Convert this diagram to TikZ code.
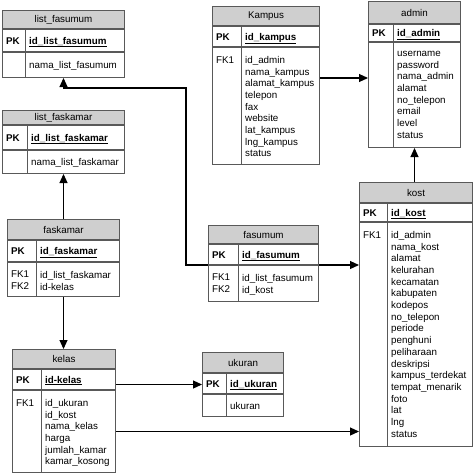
\documentclass[tikz,border=0pt]{standalone}
\usepackage{fontspec}
\setmainfont{Liberation Sans}
\usepackage{tikz}
\usetikzlibrary{positioning, arrows.meta, calc}

\begin{document}
\begin{tikzpicture}[x=1pt, y=-1pt, font=\fontsize{9.8}{11.7}\selectfont]
        \tikzstyle{hdr} = [rectangle, draw=black!65, line width=1pt, fill=black!19, anchor=north west, inner sep=0pt]
        \tikzstyle{row} = [rectangle, draw=black!65, line width=1pt, fill=white, inner sep=0pt]
        \tikzstyle{sep} = [draw=black!65, line width=1pt]
        \tikzstyle{txt} = [anchor=base west, inner sep=0pt]
        \tikzstyle{lst} = [anchor=north west, inner sep=0pt, align=left, execute at begin node={\rule{0pt}{7.5pt}}]
        \tikzstyle{fk} = [line width=1.1pt, -{Triangle[length=9pt, width=8pt]}]

        \useasboundingbox (0,0) rectangle (474,472);

        % list_fasumum
        \node [hdr, minimum width=122pt, minimum height=18pt] (lfu) at (2,10) {list\_fasumum};
        \node [row, minimum width=122pt, minimum height=22pt, below=0pt of lfu] (lfu-pk) {};
        \node [row, minimum width=122pt, minimum height=25pt, below=0pt of lfu-pk] (lfu-body) {};
        \draw [sep] ($(lfu-pk.north west)+(23,0)$) -- ($(lfu-body.south west)+(23,0)$);
        \node [txt] (lfu-k1) at ($(lfu-pk.west)+(4,3.5)$) {\textbf{PK}};
        \node [txt] (lfu-f1) at ($(lfu-pk.west)+(27,3.5)$) {\underline{\textbf{id\_list\_fasumum}}};
        \node [txt] (lfu-f2) at ($(lfu-body.west)+(27,3.5)$) {nama\_list\_fasumum};

        % list_faskamar
        \node [hdr, minimum width=122pt, minimum height=14pt] (lfk) at (2,110) {list\_faskamar};
        \node [row, minimum width=122pt, minimum height=24pt, below=0pt of lfk] (lfk-pk) {};
        \node [row, minimum width=122pt, minimum height=23pt, below=0pt of lfk-pk] (lfk-body) {};
        \draw [sep] ($(lfk-pk.north west)+(25,0)$) -- ($(lfk-body.south west)+(25,0)$);
        \node [txt] (lfk-k1) at ($(lfk-pk.west)+(4,3.5)$) {\textbf{PK}};
        \node [txt] (lfk-f1) at ($(lfk-pk.west)+(29,3.5)$) {\underline{\textbf{id\_list\_faskamar}}};
        \node [txt] (lfk-f2) at ($(lfk-body.west)+(29,3.5)$) {nama\_list\_faskamar};

        % faskamar
        \node [hdr, minimum width=112pt, minimum height=20pt] (faskamar) at (7,219) {faskamar};
        \node [row, minimum width=112pt, minimum height=21pt, below=0pt of faskamar] (faskamar-pk) {};
        \node [row, minimum width=112pt, minimum height=34pt, below=0pt of faskamar-pk] (faskamar-body) {};
        \draw [sep] ($(faskamar-pk.north west)+(29,0)$) -- ($(faskamar-body.south west)+(29,0)$);
        \node [txt] (faskamar-k1) at ($(faskamar-pk.west)+(4,3.5)$) {\textbf{PK}};
        \node [txt] (faskamar-f1) at ($(faskamar-pk.west)+(33,3.5)$) {\underline{\textbf{id\_faskamar}}};
        \node [lst] (faskamar-k2) at ($(faskamar-body.north west)+(4,9)$) {FK1\\FK2};
        \node [lst] (faskamar-f2) at ($(faskamar-body.north west)+(33,9)$) {id\_list\_faskamar\\id-kelas};

        % kelas
        \node [hdr, minimum width=103pt, minimum height=19pt] (kelas) at (12,349) {kelas};
        \node [row, minimum width=103pt, minimum height=20pt, below=0pt of kelas] (kelas-pk) {};
        \node [row, minimum width=103pt, minimum height=82pt, below=0pt of kelas-pk] (kelas-body) {};
        \draw [sep] ($(kelas-pk.north west)+(29,0)$) -- ($(kelas-body.south west)+(29,0)$);
        \node [txt] (kelas-k1) at ($(kelas-pk.west)+(4,3.5)$) {\textbf{PK}};
        \node [txt] (kelas-f1) at ($(kelas-pk.west)+(33,3.5)$) {\underline{\textbf{id-kelas}}};
        \node [lst] (kelas-k2) at ($(kelas-body.north west)+(4,9)$) {FK1};
        \node [lst] (kelas-f2) at ($(kelas-body.north west)+(33,9)$) {id\_ukuran\\id\_kost\\nama\_kelas\\harga\\jumlah\_kamar\\kamar\_kosong};

        % ukuran
        \node [hdr, minimum width=81pt, minimum height=20pt] (ukuran) at (202,352) {ukuran};
        \node [row, minimum width=81pt, minimum height=20pt, below=0pt of ukuran] (ukuran-pk) {};
        \node [row, minimum width=81pt, minimum height=22pt, below=0pt of ukuran-pk] (ukuran-body) {};
        \draw [sep] ($(ukuran-pk.north west)+(24,0)$) -- ($(ukuran-body.south west)+(24,0)$);
        \node [txt] (ukuran-k1) at ($(ukuran-pk.west)+(4,3.5)$) {\textbf{PK}};
        \node [txt] (ukuran-f1) at ($(ukuran-pk.west)+(28,3.5)$) {\underline{\textbf{id\_ukuran}}};
        \node [txt] (ukuran-f2) at ($(ukuran-body.west)+(28,3.5)$) {ukuran};

        % fasumum
        \node [hdr, minimum width=110pt, minimum height=18pt] (fasumum) at (208,225) {fasumum};
        \node [row, minimum width=110pt, minimum height=20pt, below=0pt of fasumum] (fasumum-pk) {};
        \node [row, minimum width=110pt, minimum height=36pt, below=0pt of fasumum-pk] (fasumum-body) {};
        \draw [sep] ($(fasumum-pk.north west)+(30,0)$) -- ($(fasumum-body.south west)+(30,0)$);
        \node [txt] (fasumum-k1) at ($(fasumum-pk.west)+(4,3.5)$) {\textbf{PK}};
        \node [txt] (fasumum-f1) at ($(fasumum-pk.west)+(34,3.5)$) {\underline{\textbf{id\_fasumum}}};
        \node [lst] (fasumum-k2) at ($(fasumum-body.north west)+(4,9)$) {FK1\\FK2};
        \node [lst] (fasumum-f2) at ($(fasumum-body.north west)+(34,9)$) {id\_list\_fasumum\\id\_kost};

        % Kampus
        \node [hdr, minimum width=107pt, minimum height=19pt] (kampus) at (212,6) {Kampus};
        \node [row, minimum width=107pt, minimum height=20pt, below=0pt of kampus] (kampus-pk) {};
        \node [row, minimum width=107pt, minimum height=117pt, below=0pt of kampus-pk] (kampus-body) {};
        \draw [sep] ($(kampus-pk.north west)+(29,0)$) -- ($(kampus-body.south west)+(29,0)$);
        \node [txt] (kampus-k1) at ($(kampus-pk.west)+(4,3.5)$) {\textbf{PK}};
        \node [txt] (kampus-f1) at ($(kampus-pk.west)+(33,3.5)$) {\underline{\textbf{id\_kampus}}};
        \node [lst] (kampus-k2) at ($(kampus-body.north west)+(4,9)$) {FK1};
        \node [lst] (kampus-f2) at ($(kampus-body.north west)+(33,9)$) {id\_admin\\nama\_kampus\\alamat\_kampus\\telepon\\fax\\website\\lat\_kampus\\lng\_kampus\\status};

        % admin
        \node [hdr, minimum width=92pt, minimum height=22pt] (admin) at (368,1) {admin};
        \node [row, minimum width=92pt, minimum height=17pt, below=0pt of admin] (admin-pk) {};
        \node [row, minimum width=92pt, minimum height=105pt, below=0pt of admin-pk] (admin-body) {};
        \draw [sep] ($(admin-pk.north west)+(25,0)$) -- ($(admin-body.south west)+(25,0)$);
        \node [txt] (admin-k1) at ($(admin-pk.west)+(4,3.5)$) {\textbf{PK}};
        \node [txt] (admin-f1) at ($(admin-pk.west)+(29,3.5)$) {\underline{\textbf{id\_admin}}};
        \node [lst] (admin-f2) at ($(admin-body.north west)+(29,9)$) {username\\password\\nama\_admin\\alamat\\no\_telepon\\email\\level\\status};

        % kost
        \node [hdr, minimum width=113pt, minimum height=20pt] (kost) at (359,182) {kost};
        \node [row, minimum width=113pt, minimum height=18pt, below=0pt of kost] (kost-pk) {};
        \node [row, minimum width=113pt, minimum height=224pt, below=0pt of kost-pk] (kost-body) {};
        \draw [sep] ($(kost-pk.north west)+(28,0)$) -- ($(kost-body.south west)+(28,0)$);
        \node [txt] (kost-k1) at ($(kost-pk.west)+(4,3.5)$) {\textbf{PK}};
        \node [txt] (kost-f1) at ($(kost-pk.west)+(32,3.5)$) {\underline{\textbf{id\_kost}}};
        \node [lst] (kost-k2) at ($(kost-body.north west)+(4,9)$) {FK1};
        \node [lst] (kost-f2) at ($(kost-body.north west)+(32,9)$) {id\_admin\\nama\_kost\\alamat\\kelurahan\\kecamatan\\kabupaten\\kodepos\\no\_telepon\\periode\\penghuni\\peliharaan\\deskripsi\\kampus\_terdekat\\tempat\_menarik\\foto\\lat\\lng\\status};

        % relations
        \coordinate (turn) at (186,88);
        \coordinate (k2a) at ([yshift=-31pt]kampus-body.north east);
        \coordinate (k2u) at ([yshift=-5pt]kelas-pk.east);
        \draw [fk] (fasumum-pk.south west) -| (turn) -| (lfu-body.south);
        \draw [fk] (fasumum-pk.south east) -- (fasumum-pk.south east -| kost-body.west);
        \draw [fk] (k2a) -- (k2a -| admin-body.west);
        \draw [fk] (kost.north -| admin-body.south) -- (admin-body.south);
        \draw [fk] (faskamar.north) -- (lfk-body.south);
        \draw [fk] (faskamar-body.south) -- (faskamar-body.south |- kelas.north);
        \draw [fk] (k2u) -- (k2u -| ukuran-pk.west);
        \draw [fk] (kelas-body.east) -- (kelas-body.east -| kost-body.west);
    \end{tikzpicture}
\end{document}
